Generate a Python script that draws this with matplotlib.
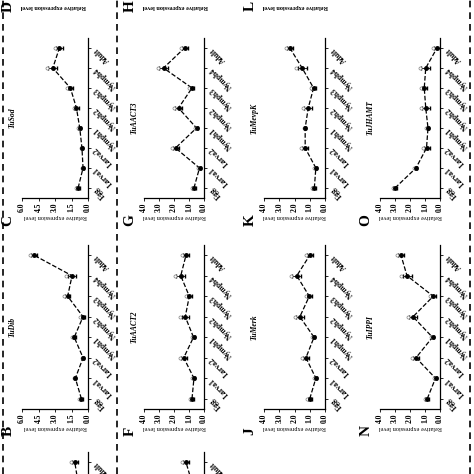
import matplotlib
matplotlib.use("Agg")
import matplotlib.pyplot as plt
from matplotlib.lines import Line2D

plt.rcParams['font.family'] = ['Liberation Serif', 'DejaVu Serif']
plt.rcParams['font.weight'] = 'bold'

stages = ["Egg", "Larva1", "Larva2", "Nymph1", "Nymph2", "Nymph3", "Nymph4", "Adult"]

sod = [0.9, 0.45, 0.55, 0.75, 1.05, 1.6, 3.2, 2.6]
aact3 = [0.67, 0.3, 1.9, 0.5, 1.7, 0.8, 2.7, 1.3]
mevpk = [0.7, 0.6, 1.3, 1.3, 1.1, 0.75, 1.5, 2.3]
jhamt = [3.0, 1.6, 0.9, 0.8, 0.95, 1.05, 0.95, 0.2]
dib = [0.6, 1.15, 0.45, 1.25, 0.45, 1.85, 1.45, 4.9]
aact2 = [0.8, 0.67, 1.35, 0.7, 1.25, 0.98, 1.55, 1.2]
merk = [1.0, 0.6, 1.25, 0.72, 1.65, 1.03, 1.85, 1.0]
ippi = [0.85, 0.3, 1.6, 0.5, 1.8, 0.45, 2.2, 2.6]
err6 = [0.15, 0.1, 0.1, 0.15, 0.2, 0.25, 0.4, 0.3]
err4 = [0.12, 0.08, 0.2, 0.08, 0.25, 0.15, 0.3, 0.2]

# bottom (partially visible) row, only adult region in view
row3_a = [0.5, 0.5, 0.5, 0.5, 0.5, 0.5, 0.6, 0.8]
row3_b = [0.5, 0.5, 0.5, 0.5, 0.5, 0.5, 0.8, 1.2]

W = 474
fig = plt.figure(figsize=(4.74, 4.74), dpi=100)

cols = [(22, 88), (144, 204), (264, 325), (380, 440)]
rows = [(38, 198), (245, 409), (452, 616)]

panels = [
    (0, 0, "C", "TuSod", sod, err6, 6.0, [6.0, 4.5, 3.0, 1.5, 0.0]),
    (1, 0, "G", "TuAACT3", aact3, err4, 4.0, [4.0, 3.0, 2.0, 1.0, 0.0]),
    (2, 0, "K", "TuMevpK", mevpk, err4, 4.0, [4.0, 3.0, 2.0, 1.0, 0.0]),
    (3, 0, "O", "TuJHAMT", jhamt, err4, 4.0, [4.0, 3.0, 2.0, 1.0, 0.0]),
    (0, 1, "B", "TuDib", dib, err6, 6.0, [6.0, 4.5, 3.0, 1.5, 0.0]),
    (1, 1, "F", "TuAACT2", aact2, err4, 4.0, [4.0, 3.0, 2.0, 1.0, 0.0]),
    (2, 1, "J", "TuMerk", merk, err4, 4.0, [4.0, 3.0, 2.0, 1.0, 0.0]),
    (3, 1, "N", "TuIPPI", ippi, err4, 4.0, [4.0, 3.0, 2.0, 1.0, 0.0]),
    (0, 2, "", "", row3_a, err4, 4.0, [4.0, 3.0, 2.0, 1.0, 0.0]),
    (1, 2, "", "", row3_b, err4, 4.0, [4.0, 3.0, 2.0, 1.0, 0.0]),
]

for ci, ri, letter, gene, vals, err, vmax, ticks in panels:
    x0, x1 = cols[ci]
    yt, yb = rows[ri]
    ax = fig.add_axes([x0 / W, 1 - yb / W, (x1 - x0) / W, (yb - yt) / W])
    ax.set_facecolor('none')
    ys = list(range(len(stages)))
    ax.errorbar(vals, ys, xerr=err, fmt='o', color='black', ms=2.5, lw=0.6,
                capsize=1.2, linestyle='none')
    ax.plot(vals, ys, '--', color='black', lw=0.9)
    ax.plot([v + e * 1.3 for v, e in zip(vals, err)], ys, 'o', mfc='white',
            mec='gray', ms=2.2, mew=0.5, linestyle='none')
    ax.set_xlim(vmax, 0)
    ax.set_ylim(-0.5, 7.5)
    for s in ['top', 'left']:
        ax.spines[s].set_visible(False)
    ax.spines['right'].set_linewidth(0.9)
    ax.spines['bottom'].set_linewidth(0.9)
    ax.yaxis.tick_right()
    ax.set_yticks(ys)
    ax.set_yticklabels(stages, rotation=135, fontsize=5.5, fontweight='bold',
                       ha='right', va='center', rotation_mode='anchor')
    ax.tick_params(axis='y', length=2, width=0.6, pad=3)
    ax.set_xticks(ticks)
    ax.set_xticklabels([f"{t:.1f}" for t in ticks], rotation=90, fontsize=5.5,
                       fontweight='bold', va='top')
    ax.tick_params(axis='x', length=2, width=0.6, pad=1.5)
    ax.set_xlabel("Relative expression level", rotation=180, fontsize=4.5,
                  labelpad=1)
    if gene:
        fig.text((x0 - 10) / W, 1 - ((yt + yb) / 2) / W, gene, rotation=90,
                 style='italic', fontsize=5.5, ha='center', va='center')
    if letter:
        fig.text((x0 - 14) / W, 1 - (yb + 22) / W, letter, rotation=90,
                 fontsize=11, ha='center', va='center')

# letters of top row (cut off)
for xl, letter in [(8, "D"), (130, "H"), (250, "L")]:
    fig.text(xl / W, 1 - 6 / W, letter, rotation=90, fontsize=11,
             ha='center', va='center')
    fig.text((xl + 45) / W, 1 - 6 / W, "Relative expression level",
             rotation=180, fontsize=4.5, ha='center', va='center')

# dashed separators
for xs in [3, 117, 470]:
    fig.add_artist(Line2D([xs / W, xs / W], [0, 1], color='black', lw=1.2,
                          linestyle=(0, (4, 3)), transform=fig.transFigure))

fig.savefig("out.png", dpi=100)
